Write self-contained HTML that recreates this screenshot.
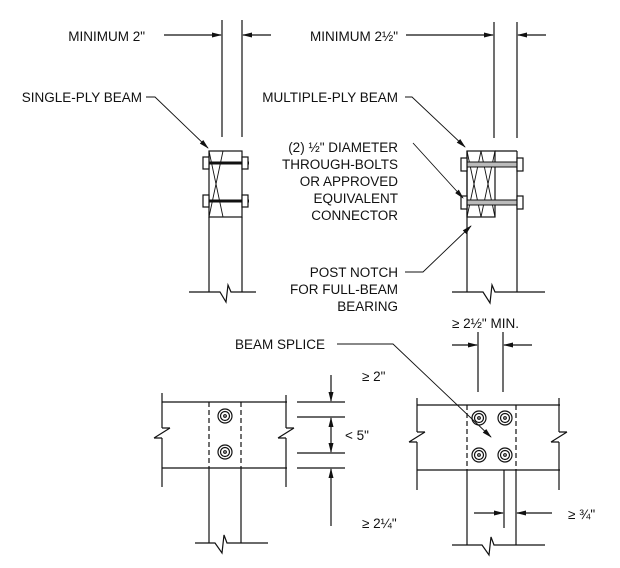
<!DOCTYPE html>
<html><head><style>body{margin:0;background:#fff}svg{display:block}text{font-family:"Liberation Sans",sans-serif;font-size:13.5px;fill:#111}</style></head><body>
<svg width="620" height="568" viewBox="0 0 620 568" xmlns="http://www.w3.org/2000/svg">
<defs><marker id="a" markerWidth="10" markerHeight="6" refX="9" refY="3" orient="auto" markerUnits="userSpaceOnUse"><path d="M0,0.5 L10,3 L0,5.5z" fill="#111"/></marker></defs>
<g stroke="#111" stroke-width="1.2" fill="none">
<line x1="222" y1="20" x2="222" y2="137"/><line x1="242" y1="20" x2="242" y2="137"/>
<line x1="164" y1="35" x2="221" y2="35" marker-end="url(#a)"/><line x1="271" y1="35" x2="243" y2="35" marker-end="url(#a)"/>
<rect x="209" y="151" width="33" height="66"/>
<path d="M209,151 L223,217 M223,151 L209,217" stroke-width="0.9"/>
<line x1="209" y1="217" x2="209" y2="292"/><line x1="242" y1="217" x2="242" y2="292"/>
<path d="M189,292 H220 L226,302 L228,285 L231,292 H256"/>
<g><line x1="205" y1="163" x2="249" y2="163" stroke-width="3"/><line x1="205" y1="201" x2="249" y2="201" stroke-width="3"/>
<rect x="203" y="157" width="6" height="12" fill="#fff"/><rect x="242" y="157" width="6" height="12" fill="#fff"/>
<rect x="203" y="195" width="6" height="12" fill="#fff"/><rect x="242" y="195" width="6" height="12" fill="#fff"/></g>
<path d="M146,97 H155 L208,148" stroke-width="0.9" marker-end="url(#a)"/>
<line x1="494" y1="22" x2="494" y2="138"/><line x1="517" y1="22" x2="517" y2="138"/>
<line x1="406" y1="35" x2="493" y2="35" marker-end="url(#a)"/><line x1="546" y1="35" x2="518" y2="35" marker-end="url(#a)"/>
<rect x="467" y="151" width="28" height="66"/>
<line x1="495" y1="151" x2="517" y2="151"/>
<path d="M467,151 L481,217 M481,151 L467,217 M481,151 L495,217 M495,151 L481,217" stroke-width="0.9"/>
<line x1="467" y1="151" x2="467" y2="292"/><line x1="517" y1="151" x2="517" y2="292"/>
<path d="M452,292 H483 L490,303 L492,285 L495,292 H545"/>
<rect x="467" y="162" width="50" height="5" fill="#bbb" stroke-width="1"/>
<rect x="467" y="200" width="50" height="5" fill="#bbb" stroke-width="1"/>
<rect x="461" y="158" width="6" height="13" fill="#fff"/><rect x="517" y="158" width="6" height="13" fill="#fff"/>
<rect x="461" y="196" width="6" height="13" fill="#fff"/><rect x="517" y="196" width="6" height="13" fill="#fff"/>
<path d="M405,97 H412 L465,147" stroke-width="0.9" marker-end="url(#a)"/>
<path d="M413,143 L463,198" stroke-width="0.9" marker-end="url(#a)"/>
<path d="M405,272 H423 L471,226" stroke-width="0.9" marker-end="url(#a)"/>
<line x1="162" y1="402" x2="287" y2="402"/><line x1="162" y1="468" x2="287" y2="468"/>
<path d="M162,393 V428 M162,438 V487 M154,438 L170,428 M154,438 H162 M162,428 H170"/>
<path d="M286,395 V428 M286,438 V487 M278,438 L294,428 M278,438 H286 M286,428 H294"/>
<path d="M209,402 V468 M241,402 V468" stroke-dasharray="5,3"/>
<line x1="209" y1="468" x2="209" y2="543"/><line x1="241" y1="468" x2="241" y2="543"/>
<path d="M195,543 H215 L222,553 L224,535 L227,543 H268"/>
<circle cx="225" cy="416" r="7"/><circle cx="225" cy="416" r="4.5"/><circle cx="225" cy="416" r="1.3"/>
<circle cx="225" cy="452" r="7"/><circle cx="225" cy="452" r="4.5"/><circle cx="225" cy="452" r="1.3"/>
<path d="M297,402 H345 M297,417 H345 M297,453 H345 M297,468 H345"/>
<line x1="331" y1="375" x2="331" y2="401" marker-end="url(#a)"/>
<line x1="331" y1="435" x2="331" y2="418" marker-end="url(#a)"/><line x1="331" y1="435" x2="331" y2="452" marker-end="url(#a)"/>
<line x1="331" y1="526" x2="331" y2="469" marker-end="url(#a)"/>
<line x1="478" y1="332" x2="478" y2="392"/><line x1="503" y1="332" x2="503" y2="392"/>
<line x1="452" y1="345" x2="477" y2="345" marker-end="url(#a)"/><line x1="532" y1="345" x2="504" y2="345" marker-end="url(#a)"/>
<line x1="417" y1="405" x2="560" y2="405"/><line x1="417" y1="470" x2="560" y2="470"/>
<path d="M417,398 V432 M417,442 V490 M409,442 L425,432 M409,442 H417 M417,432 H425"/>
<path d="M559,398 V432 M559,442 V490 M551,442 L567,432 M551,442 H559 M559,432 H567"/>
<path d="M467,405 V470 M516,405 V470" stroke-dasharray="5,3"/>
<line x1="467" y1="470" x2="467" y2="545"/><line x1="516" y1="470" x2="516" y2="545"/>
<path d="M452,545 H482 L489,555 L491,537 L494,545 H545"/>
<g id="b"><circle cx="479" cy="418" r="7"/><circle cx="479" cy="418" r="4.5"/><circle cx="479" cy="418" r="1.3"/></g>
<use href="#b" x="26"/><use href="#b" y="37"/><use href="#b" x="26" y="37"/>
<line x1="504" y1="470" x2="504" y2="528"/>
<line x1="474" y1="513" x2="503" y2="513" marker-end="url(#a)"/><line x1="552" y1="513" x2="517" y2="513" marker-end="url(#a)"/>
<path d="M337,344 H393 L491,437" stroke-width="0.9" marker-end="url(#a)"/>
</g>
<g text-anchor="end">
<text x="145" y="41">MINIMUM 2"</text>
<text x="142" y="102">SINGLE-PLY BEAM</text>
<text x="398" y="41">MINIMUM 2½"</text>
<text x="398" y="102">MULTIPLE-PLY BEAM</text>
<text x="398" y="152">(2) ½" DIAMETER</text>
<text x="398" y="169">THROUGH-BOLTS</text>
<text x="398" y="186">OR APPROVED</text>
<text x="398" y="203">EQUIVALENT</text>
<text x="398" y="220">CONNECTOR</text>
<text x="398" y="277">POST NOTCH</text>
<text x="398" y="294">FOR FULL-BEAM</text>
<text x="398" y="311">BEARING</text>
<text x="325" y="349">BEAM SPLICE</text>
</g>
<text x="452" y="328">≥ 2½" MIN.</text>
<text x="362" y="381">≥ 2"</text>
<text x="345" y="440">&lt; 5"</text>
<text x="362" y="528">≥ 2¼"</text>
<text x="568" y="519">≥ ¾"</text>
</svg>
</body></html>
